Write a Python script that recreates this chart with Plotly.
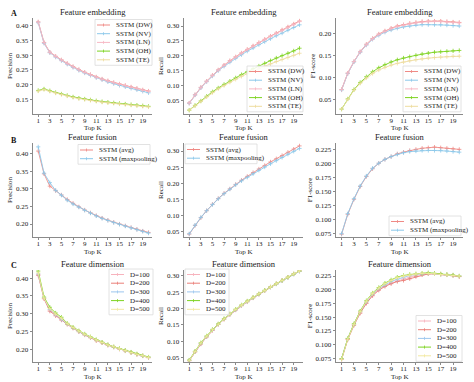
import plotly.graph_objects as go
from plotly.subplots import make_subplots

W, H = 474, 382
FONT = "Liberation Serif"

K = list(range(1, 21))
X_TICKS = [1, 3, 5, 7, 9, 11, 13, 15, 17, 19]

# ---------------- Row A: Feature embedding ----------------
emb_labels = ["SSTM (DW)", "SSTM (NV)", "SSTM (LN)", "SSTM (OH)", "SSTM (TE)"]
emb_colors = ["#ef8a85", "#8cc8ea", "#f7b8c4", "#7dd320", "#eedc9e"]

emb_prec_DW = [0.413, 0.343, 0.310, 0.296, 0.284, 0.272, 0.261, 0.251, 0.242, 0.234, 0.226, 0.219, 0.213, 0.207, 0.202, 0.197, 0.192, 0.187, 0.182, 0.178]
emb_prec_NV = [0.410, 0.340, 0.308, 0.293, 0.281, 0.269, 0.258, 0.248, 0.239, 0.231, 0.223, 0.216, 0.209, 0.203, 0.197, 0.192, 0.187, 0.182, 0.177, 0.172]
emb_prec_LN = [0.412, 0.342, 0.309, 0.295, 0.283, 0.271, 0.260, 0.250, 0.241, 0.233, 0.225, 0.218, 0.212, 0.206, 0.201, 0.196, 0.191, 0.186, 0.181, 0.177]
emb_prec_OH = [0.180, 0.185, 0.179, 0.173, 0.168, 0.163, 0.158, 0.154, 0.151, 0.148, 0.145, 0.142, 0.140, 0.138, 0.136, 0.134, 0.132, 0.130, 0.128, 0.126]
emb_prec_TE = [0.178, 0.183, 0.177, 0.171, 0.166, 0.161, 0.156, 0.152, 0.149, 0.146, 0.143, 0.140, 0.138, 0.136, 0.134, 0.132, 0.130, 0.128, 0.126, 0.124]

emb_rec_DW = [0.040, 0.068, 0.093, 0.114, 0.134, 0.152, 0.168, 0.183, 0.196, 0.209, 0.221, 0.233, 0.244, 0.255, 0.266, 0.276, 0.287, 0.297, 0.307, 0.317]
emb_rec_NV = [0.039, 0.067, 0.091, 0.112, 0.131, 0.149, 0.164, 0.178, 0.191, 0.203, 0.215, 0.226, 0.237, 0.247, 0.257, 0.267, 0.276, 0.286, 0.295, 0.304]
emb_rec_LN = [0.040, 0.068, 0.092, 0.113, 0.133, 0.151, 0.167, 0.182, 0.195, 0.208, 0.220, 0.232, 0.243, 0.254, 0.265, 0.275, 0.285, 0.295, 0.305, 0.315]
emb_rec_OH = [0.016, 0.032, 0.047, 0.063, 0.078, 0.091, 0.103, 0.114, 0.125, 0.136, 0.146, 0.156, 0.165, 0.174, 0.183, 0.192, 0.200, 0.208, 0.216, 0.225]
emb_rec_TE = [0.016, 0.031, 0.046, 0.061, 0.075, 0.088, 0.099, 0.110, 0.120, 0.130, 0.139, 0.148, 0.156, 0.164, 0.172, 0.180, 0.187, 0.194, 0.201, 0.208]

emb_f1_DW = [0.073, 0.110, 0.136, 0.158, 0.175, 0.188, 0.198, 0.205, 0.211, 0.216, 0.219, 0.222, 0.224, 0.226, 0.227, 0.227, 0.227, 0.226, 0.225, 0.224]
emb_f1_NV = [0.072, 0.109, 0.135, 0.157, 0.173, 0.186, 0.195, 0.202, 0.207, 0.211, 0.214, 0.216, 0.218, 0.219, 0.219, 0.219, 0.219, 0.218, 0.217, 0.216]
emb_f1_LN = [0.073, 0.110, 0.136, 0.158, 0.174, 0.187, 0.197, 0.204, 0.210, 0.215, 0.218, 0.221, 0.223, 0.225, 0.226, 0.226, 0.226, 0.225, 0.224, 0.223]
emb_f1_OH = [0.029, 0.052, 0.073, 0.089, 0.102, 0.113, 0.122, 0.129, 0.135, 0.140, 0.144, 0.147, 0.150, 0.153, 0.155, 0.157, 0.158, 0.159, 0.160, 0.161]
emb_f1_TE = [0.029, 0.051, 0.072, 0.087, 0.099, 0.109, 0.117, 0.123, 0.128, 0.132, 0.135, 0.138, 0.140, 0.142, 0.144, 0.145, 0.146, 0.147, 0.148, 0.148]

# ---------------- Row B: Feature fusion ----------------
fus_labels = ["SSTM (avg)", "SSTM (maxpooling)"]
fus_colors = ["#ef8a85", "#8cc8ea"]

fus_prec_avg = [0.408, 0.343, 0.308, 0.295, 0.283, 0.270, 0.259, 0.249, 0.240, 0.232, 0.224, 0.217, 0.211, 0.205, 0.200, 0.195, 0.190, 0.185, 0.180, 0.176]
fus_prec_max = [0.420, 0.345, 0.318, 0.296, 0.282, 0.268, 0.257, 0.248, 0.239, 0.231, 0.223, 0.216, 0.210, 0.204, 0.199, 0.194, 0.189, 0.184, 0.179, 0.174]

fus_rec_avg = [0.041, 0.068, 0.092, 0.114, 0.134, 0.152, 0.168, 0.182, 0.196, 0.209, 0.221, 0.233, 0.244, 0.255, 0.266, 0.276, 0.286, 0.296, 0.306, 0.316]
fus_rec_max = [0.042, 0.069, 0.093, 0.114, 0.133, 0.151, 0.167, 0.181, 0.195, 0.207, 0.218, 0.229, 0.240, 0.250, 0.260, 0.270, 0.280, 0.290, 0.299, 0.308]

fus_f1_avg = [0.073, 0.109, 0.136, 0.159, 0.177, 0.191, 0.201, 0.208, 0.213, 0.218, 0.221, 0.224, 0.226, 0.228, 0.229, 0.230, 0.229, 0.228, 0.227, 0.226]
fus_f1_max = [0.074, 0.110, 0.137, 0.160, 0.178, 0.192, 0.201, 0.208, 0.213, 0.217, 0.220, 0.222, 0.223, 0.224, 0.224, 0.224, 0.224, 0.223, 0.222, 0.221]

# ---------------- Row C: Feature dimension ----------------
dim_labels = ["D=100", "D=200", "D=300", "D=400", "D=500"]
dim_colors = ["#f7b3bd", "#ea7f78", "#9cc6ee", "#7dd320", "#f2e8a0"]

dim_prec_100 = [0.410, 0.343, 0.310, 0.296, 0.283, 0.271, 0.260, 0.250, 0.241, 0.233, 0.225, 0.218, 0.212, 0.206, 0.201, 0.196, 0.191, 0.186, 0.181, 0.177]
dim_prec_200 = [0.408, 0.342, 0.307, 0.294, 0.282, 0.270, 0.259, 0.249, 0.240, 0.232, 0.224, 0.218, 0.211, 0.206, 0.200, 0.195, 0.190, 0.185, 0.181, 0.176]
dim_prec_300 = [0.412, 0.345, 0.312, 0.297, 0.284, 0.271, 0.260, 0.250, 0.241, 0.233, 0.226, 0.219, 0.212, 0.206, 0.201, 0.196, 0.191, 0.186, 0.181, 0.177]
dim_prec_400 = [0.420, 0.347, 0.318, 0.302, 0.290, 0.273, 0.262, 0.252, 0.243, 0.235, 0.227, 0.220, 0.213, 0.207, 0.202, 0.197, 0.192, 0.187, 0.182, 0.178]
dim_prec_500 = [0.415, 0.344, 0.314, 0.299, 0.287, 0.272, 0.261, 0.251, 0.242, 0.234, 0.226, 0.219, 0.212, 0.207, 0.201, 0.196, 0.191, 0.186, 0.182, 0.177]

dim_rec_100 = [0.040, 0.067, 0.092, 0.113, 0.133, 0.151, 0.167, 0.181, 0.195, 0.208, 0.220, 0.232, 0.243, 0.254, 0.265, 0.275, 0.285, 0.295, 0.305, 0.314]
dim_rec_200 = [0.040, 0.067, 0.091, 0.113, 0.133, 0.151, 0.167, 0.182, 0.196, 0.209, 0.221, 0.233, 0.244, 0.255, 0.266, 0.276, 0.286, 0.296, 0.306, 0.315]
dim_rec_300 = [0.041, 0.068, 0.093, 0.114, 0.134, 0.152, 0.168, 0.182, 0.196, 0.209, 0.221, 0.233, 0.244, 0.255, 0.265, 0.275, 0.285, 0.295, 0.305, 0.314]
dim_rec_400 = [0.042, 0.069, 0.095, 0.116, 0.136, 0.153, 0.169, 0.184, 0.198, 0.211, 0.223, 0.234, 0.245, 0.256, 0.266, 0.276, 0.286, 0.296, 0.306, 0.315]
dim_rec_500 = [0.041, 0.068, 0.094, 0.115, 0.135, 0.152, 0.168, 0.183, 0.197, 0.210, 0.222, 0.234, 0.245, 0.255, 0.266, 0.276, 0.286, 0.296, 0.306, 0.315]

dim_f1_100 = [0.073, 0.110, 0.136, 0.158, 0.176, 0.190, 0.200, 0.207, 0.212, 0.216, 0.220, 0.223, 0.226, 0.228, 0.229, 0.229, 0.228, 0.227, 0.226, 0.224]
dim_f1_200 = [0.073, 0.109, 0.135, 0.157, 0.175, 0.189, 0.199, 0.206, 0.211, 0.215, 0.217, 0.220, 0.224, 0.227, 0.229, 0.229, 0.228, 0.227, 0.226, 0.224]
dim_f1_300 = [0.074, 0.111, 0.137, 0.160, 0.178, 0.192, 0.202, 0.209, 0.215, 0.219, 0.223, 0.226, 0.228, 0.229, 0.230, 0.229, 0.228, 0.227, 0.226, 0.225]
dim_f1_400 = [0.074, 0.111, 0.138, 0.161, 0.180, 0.194, 0.204, 0.212, 0.218, 0.223, 0.226, 0.228, 0.229, 0.230, 0.231, 0.230, 0.229, 0.228, 0.227, 0.225]
dim_f1_500 = [0.073, 0.110, 0.137, 0.160, 0.179, 0.193, 0.203, 0.211, 0.217, 0.222, 0.225, 0.227, 0.229, 0.230, 0.230, 0.229, 0.228, 0.227, 0.226, 0.225]

ROW_TITLES = ["Feature embedding", "Feature fusion", "Feature dimension"]
ROW_LETTERS = ["A", "B", "C"]
Y_TITLES = ["Precision", "Recall", "F1-score"]
X_TITLE = "Top K"

# ---------------- layout geometry (pixels) ----------------
COL_PX = [(33, 152), (184, 303), (336, 463)]
ROW_PX = [(18, 114), (143, 237), (270, 362)]


def px(x):
    return x / W


def py(y):
    return 1 - y / H


fig = make_subplots(rows=3, cols=3)

panels = [
    (1, 1, [emb_prec_DW, emb_prec_NV, emb_prec_LN, emb_prec_OH, emb_prec_TE], emb_labels, emb_colors,
     [0.100, 0.426], [0.15, 0.20, 0.25, 0.30, 0.35, 0.40], ".2f", (95, 19.5, 57)),
    (1, 2, [emb_rec_DW, emb_rec_NV, emb_rec_LN, emb_rec_OH, emb_rec_TE], emb_labels, emb_colors,
     [0.003, 0.327], [0.05, 0.10, 0.15, 0.20, 0.25, 0.30], ".2f", (247, 66, 56)),
    (1, 3, [emb_f1_DW, emb_f1_NV, emb_f1_LN, emb_f1_OH, emb_f1_TE], emb_labels, emb_colors,
     [0.018, 0.234], [0.05, 0.10, 0.15, 0.20], ".2f", (403, 66, 58)),
    (2, 1, [fus_prec_avg, fus_prec_max], fus_labels, fus_colors,
     [0.163, 0.431], [0.20, 0.25, 0.30, 0.35, 0.40], ".2f", (78, 144.5, 72)),
    (2, 2, [fus_rec_avg, fus_rec_max], fus_labels, fus_colors,
     [0.032, 0.325], [0.05, 0.10, 0.15, 0.20, 0.25, 0.30], ".2f", (185, 144, 72)),
    (2, 3, [fus_f1_avg, fus_f1_max], fus_labels, fus_colors,
     [0.068, 0.2375], [0.075, 0.100, 0.125, 0.150, 0.175, 0.200, 0.225], ".3f", (389, 216, 72)),
    (3, 1, [dim_prec_100, dim_prec_200, dim_prec_300, dim_prec_400, dim_prec_500], dim_labels, dim_colors,
     [0.164, 0.423], [0.20, 0.25, 0.30, 0.35, 0.40], ".2f", (109, 269, 44)),
    (3, 2, [dim_rec_100, dim_rec_200, dim_rec_300, dim_rec_400, dim_rec_500], dim_labels, dim_colors,
     [0.036, 0.318], [0.05, 0.10, 0.15, 0.20, 0.25, 0.30], ".2f", (185, 269, 44)),
    (3, 3, [dim_f1_100, dim_f1_200, dim_f1_300, dim_f1_400, dim_f1_500], dim_labels, dim_colors,
     [0.068, 0.236], [0.075, 0.100, 0.125, 0.150, 0.175, 0.200, 0.225], ".3f", (416, 315.5, 46)),
]

AX_COLOR = "#8a8a8a"
TXT_COLOR = "#222222"

for (r, c, series, labels, colors, yr, ytv, fmt, leg) in panels:
    for vals, lab, col in zip(series, labels, colors):
        fig.add_trace(go.Scatter(
            x=K, y=vals, name=lab, mode="lines+markers",
            line=dict(color=col, width=0.9),
            marker=dict(symbol="cross-thin", size=3, line=dict(width=0.8, color=col)),
            showlegend=False,
        ), row=r, col=c)

    x0p, x1p = COL_PX[c - 1]
    y0p, y1p = ROW_PX[r - 1]
    fig.update_xaxes(
        domain=[px(x0p), px(x1p)], range=[0.1, 20.6],
        tickvals=X_TICKS, ticks="outside", ticklen=2, tickwidth=0.8, tickcolor=AX_COLOR,
        ticklabelstandoff=-2,
        showline=True, linecolor=AX_COLOR, linewidth=0.8, showgrid=False, zeroline=False,
        tickfont=dict(family=FONT, size=7, color=TXT_COLOR),
        row=r, col=c)
    fig.update_yaxes(
        domain=[py(y1p), py(y0p)], range=yr,
        tickvals=ytv, tickformat=fmt, ticks="outside", ticklen=2.5, tickwidth=0.8, tickcolor=AX_COLOR,
        showline=True, linecolor=AX_COLOR, linewidth=0.8, showgrid=False, zeroline=False,
        tickfont=dict(family=FONT, size=7, color=TXT_COLOR),
        title=dict(text=Y_TITLES[c - 1], font=dict(family=FONT, size=7, color=TXT_COLOR), standoff=2),
        row=r, col=c)

    # x-axis title
    fig.add_annotation(
        x=px((x0p + x1p) / 2), y=py(y1p + 14.5), xref="paper", yref="paper",
        text=X_TITLE, showarrow=False, xanchor="center", yanchor="middle",
        font=dict(family=FONT, size=7, color=TXT_COLOR))

    # subplot title
    fig.add_annotation(
        x=px((x0p + x1p) / 2), y=py(y0p - 6), xref="paper", yref="paper",
        text=ROW_TITLES[r - 1], showarrow=False, xanchor="center", yanchor="middle",
        font=dict(family=FONT, size=8.5, color=TXT_COLOR))

    # legend box
    lx, ly, lw = leg
    n = len(labels)
    lh = 11 + (n - 1) * 8.7
    fig.add_shape(type="rect", xref="paper", yref="paper",
                  x0=px(lx), x1=px(lx + lw), y0=py(ly + lh), y1=py(ly),
                  line=dict(color="#dadada", width=0.8), fillcolor="rgba(255,255,255,0.85)", layer="above")
    for i, (lab, col) in enumerate(zip(labels, colors)):
        yy = ly + 5.5 + i * 8.7
        fig.add_shape(type="line", xref="paper", yref="paper",
                      x0=px(lx + 2), x1=px(lx + 15), y0=py(yy), y1=py(yy),
                      line=dict(color=col, width=1), layer="above")
        mx = lx + 8.5
        fig.add_shape(type="line", xref="paper", yref="paper",
                      x0=px(mx), x1=px(mx), y0=py(yy - 1.5), y1=py(yy + 1.5),
                      line=dict(color=col, width=0.8), layer="above")
        fig.add_annotation(
            x=px(lx + 19), y=py(yy), xref="paper", yref="paper",
            text=lab, showarrow=False, xanchor="left", yanchor="middle",
            font=dict(family=FONT, size=7, color=TXT_COLOR))

# panel letters
for letter, yl in zip(ROW_LETTERS, [13, 140, 265]):
    fig.add_annotation(
        x=px(14), y=py(yl), xref="paper", yref="paper",
        text="<b>" + letter + "</b>", showarrow=False, xanchor="center", yanchor="middle",
        font=dict(family=FONT, size=8, color="#111111"))

fig.update_layout(
    width=W, height=H,
    margin=dict(l=0, r=0, t=0, b=0),
    paper_bgcolor="white", plot_bgcolor="white",
    showlegend=False,
    font=dict(family=FONT, size=7, color=TXT_COLOR),
)

fig.write_html(
    "out.html",
    config={"displayModeBar": False},
    post_script="document.body.style.margin='0';document.body.style.overflow='hidden';",
)
